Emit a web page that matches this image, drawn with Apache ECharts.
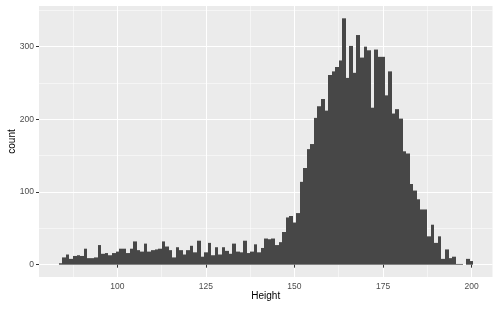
<!DOCTYPE html>
<html>
<head>
<meta charset="utf-8">
<script src="https://cdn.jsdelivr.net/npm/echarts@6/dist/echarts.min.js"></script>
<style>
html,body{margin:0;padding:0;background:#fff;}
#chart{width:500px;height:309px;}
</style>
</head>
<body>
<div id="chart"></div>
<script>
// Histogram of Height, binwidth 1, first bin 83.5–84.5
const binStart = 83.5;
const binWidth = 1;
const counts = [
  2, 10, 14, 8, 12, 13, 12, 22, 9, 9,
  10, 27, 15, 16, 13, 16, 18, 22, 22, 16,
  22, 32, 20, 18, 29, 18, 20, 21, 22, 32,
  25, 20, 10, 24, 20, 14, 20, 26, 17, 33,
  11, 17, 30, 13, 24, 14, 24, 19, 15, 29,
  18, 17, 33, 16, 18, 28, 17, 23, 36, 35,
  36, 27, 31, 45, 65, 67, 58, 71, 114, 133,
  159, 166, 202, 218, 228, 212, 261, 266, 272, 281,
  339, 257, 301, 264, 316, 285, 300, 295, 216, 296,
  286, 286, 233, 266, 208, 214, 201, 156, 153, 111,
  102, 90, 76, 76, 39, 55, 30, 39, 8, 21,
  9, 11, 1, 1, 0, 8, 5
];
const xMajor = [100, 125, 150, 175, 200];
const xMinor = [87.5, 112.5, 137.5, 162.5, 187.5];
const yMajor = [0, 100, 200, 300];
const yMinor = [50, 150, 250, 350];
const xLabel = 'Height';
const yLabel = 'count';

const bins = counts.map((c, i) => [binStart + i * binWidth, binStart + (i + 1) * binWidth, c]);

const FONT = 'Liberation Sans, Arial, Helvetica, sans-serif';
const xMin = 77.9, xMax = 205.9, yMin = -16.95, yMax = 355.95;
const BAR = '#474747';

const chart = echarts.init(document.getElementById('chart'), null, {renderer: 'canvas'});
chart.setOption({
  animation: false,
  backgroundColor: '#ffffff',
  grid: {left: 39, right: 7.5, top: 6, bottom: 32, show: true, backgroundColor: '#EBEBEB', borderWidth: 0,
         containLabel: false, outerBoundsMode: 'none'},
  xAxis: [
    {
      type: 'value', min: xMin, max: xMax, position: 'bottom',
      name: xLabel, nameLocation: 'middle', nameGap: 14, nameMoveOverlap: false,
      nameTextStyle: {color: '#000', fontSize: 10, fontFamily: FONT},
      axisLine: {show: false},
      axisTick: {show: true, length: 3, lineStyle: {color: '#333333', width: 1}, customValues: xMajor},
      axisLabel: {color: '#4D4D4D', fontSize: 8.5, fontFamily: FONT, margin: 5, customValues: xMajor},
      splitLine: {show: true, lineStyle: {color: '#ffffff', width: 1}}
    },
    {
      type: 'value', min: xMin, max: xMax, position: 'bottom',
      axisLine: {show: false},
      axisTick: {show: false, customValues: xMinor},
      axisLabel: {show: false},
      splitLine: {show: true, lineStyle: {color: '#ffffff', width: 0.5}}
    }
  ],
  yAxis: [
    {
      type: 'value', min: yMin, max: yMax, position: 'left',
      name: yLabel, nameLocation: 'middle', nameGap: 22, nameRotate: 90, nameMoveOverlap: false,
      nameTextStyle: {color: '#000', fontSize: 10, fontFamily: FONT},
      axisLine: {show: false},
      axisTick: {show: true, length: 3, lineStyle: {color: '#333333', width: 1}, customValues: yMajor},
      axisLabel: {color: '#4D4D4D', fontSize: 8.5, fontFamily: FONT, margin: 5, customValues: yMajor},
      splitLine: {show: true, lineStyle: {color: '#ffffff', width: 1}}
    },
    {
      type: 'value', min: yMin, max: yMax, position: 'left',
      axisLine: {show: false},
      axisTick: {show: false, customValues: yMinor},
      axisLabel: {show: false},
      splitLine: {show: true, lineStyle: {color: '#ffffff', width: 0.5}}
    }
  ],
  series: [{
    type: 'custom',
    xAxisIndex: 0, yAxisIndex: 0,
    data: bins,
    encode: {x: [0, 1], y: 2},
    clip: true,
    renderItem: function (params, api) {
      const p0 = api.coord([api.value(0), api.value(2)]);
      const p1 = api.coord([api.value(1), 0]);
      const x0 = Math.round(p0[0]);
      const x1 = Math.round(p1[0]);
      return {
        type: 'rect',
        shape: {x: x0, y: p0[1], width: x1 - x0, height: p1[1] - p0[1]},
        style: {fill: BAR}
      };
    }
  }]
});
</script>
</body>
</html>
